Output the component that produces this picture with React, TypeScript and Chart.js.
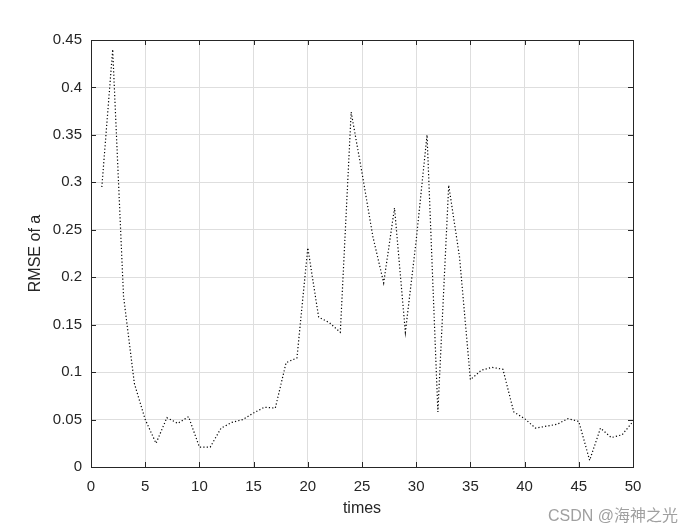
import { useEffect, useRef } from 'react';
import { Chart, registerables } from 'chart.js';

Chart.register(...registerables);

// x = 1..50 runs, y = RMSE
const times = Array.from({ length: 50 }, (_, i) => i + 1);
const rmse = [
  0.295, 0.44, 0.18, 0.088, 0.05, 0.025, 0.052, 0.046, 0.053, 0.021,
  0.021, 0.041, 0.047, 0.05, 0.057, 0.063, 0.062, 0.11, 0.115, 0.231,
  0.158, 0.152, 0.142, 0.374, 0.31, 0.243, 0.194, 0.273, 0.142, 0.239,
  0.35, 0.058, 0.297, 0.221, 0.092, 0.102, 0.105, 0.103, 0.058, 0.051,
  0.041, 0.043, 0.045, 0.051, 0.048, 0.007, 0.041, 0.031, 0.034, 0.048,
];
const xTicks = [0, 5, 10, 15, 20, 25, 30, 35, 40, 45, 50];
const yTicks = [0, 0.05, 0.1, 0.15, 0.2, 0.25, 0.3, 0.35, 0.4, 0.45];

const FONT = "'Liberation Sans', Arial, sans-serif";
const AXIS_COLOR = '#262626';

// MATLAB-style box with inward tick marks on all four sides
const boxPlugin = {
  id: 'matlabBox',
  afterDraw(chart: Chart) {
    const { ctx, chartArea: a, scales } = chart;
    const len = 5;
    ctx.save();
    ctx.strokeStyle = AXIS_COLOR;
    ctx.lineWidth = 1;
    ctx.beginPath();
    for (const v of xTicks) {
      const px = Math.round(scales.x.getPixelForValue(v)) + 0.5;
      ctx.moveTo(px, a.bottom);
      ctx.lineTo(px, a.bottom - len);
      ctx.moveTo(px, a.top);
      ctx.lineTo(px, a.top + len);
    }
    for (const v of yTicks) {
      const py = Math.round(scales.y.getPixelForValue(v)) + 0.5;
      ctx.moveTo(a.left, py);
      ctx.lineTo(a.left + len, py);
      ctx.moveTo(a.right, py);
      ctx.lineTo(a.right - len, py);
    }
    ctx.stroke();
    ctx.strokeRect(Math.round(a.left) + 0.5, Math.round(a.top) + 0.5, Math.round(a.right - a.left), Math.round(a.bottom - a.top));
    ctx.restore();
  },
};

export default function App() {
  const canvasRef = useRef<HTMLCanvasElement>(null);
  const chartRef = useRef<Chart | null>(null);

  useEffect(() => {
    if (!canvasRef.current) return;
    if (chartRef.current) chartRef.current.destroy();

    chartRef.current = new Chart(canvasRef.current, {
      type: 'line',
      data: {
        datasets: [
          {
            data: times.map((t, i) => ({ x: t, y: rmse[i] })),
            borderColor: '#000000',
            borderWidth: 1.2,
            borderDash: [1.2, 2.2],
            pointRadius: 0,
            tension: 0,
            fill: false,
          },
        ],
      },
      options: {
        animation: false,
        responsive: true,
        maintainAspectRatio: false,
        layout: { padding: { top: 40, right: 67, bottom: 0, left: 0 } },
        plugins: {
          legend: { display: false },
          tooltip: { enabled: false },
        },
        scales: {
          x: {
            type: 'linear',
            min: 0,
            max: 50,
            afterBuildTicks: (scale) => {
              scale.ticks = xTicks.map((v) => ({ value: v }));
            },
            afterFit: (scale) => {
              scale.height = 58;
            },
            ticks: {
              color: AXIS_COLOR,
              font: { family: FONT, size: 15 },
              padding: 11,
              maxRotation: 0,
              callback: (v) => String(v),
            },
            grid: { color: '#dedede', drawTicks: false },
            border: { display: false },
            title: {
              display: true,
              text: 'times',
              color: AXIS_COLOR,
              font: { family: FONT, size: 16 },
              padding: { top: 0, bottom: 7 },
            },
          },
          y: {
            type: 'linear',
            min: 0,
            max: 0.45,
            afterBuildTicks: (scale) => {
              scale.ticks = yTicks.map((v) => ({ value: v }));
            },
            afterFit: (scale) => {
              scale.width = 91;
            },
            ticks: {
              color: AXIS_COLOR,
              font: { family: FONT, size: 15 },
              padding: 9,
              callback: (v) => String(Number(Number(v).toFixed(2))),
            },
            grid: { color: '#dedede', drawTicks: false },
            border: { display: false },
            title: {
              display: true,
              text: 'RMSE of a',
              color: AXIS_COLOR,
              font: { family: FONT, size: 16 },
              padding: { top: 26, bottom: 0 },
            },
          },
        },
      },
      plugins: [boxPlugin],
    });

    return () => {
      if (chartRef.current) {
        chartRef.current.destroy();
        chartRef.current = null;
      }
    };
  }, []);

  return (
    <div style={{ position: 'absolute', left: 0, top: 0, width: 700, height: 525, background: '#ffffff', overflow: 'hidden' }}>
      <canvas ref={canvasRef}></canvas>
      <div
        style={{
          position: 'absolute',
          left: 548,
          top: 508,
          fontFamily: "'Liberation Sans', 'Noto Sans CJK SC', sans-serif",
          fontSize: 16,
          lineHeight: '16px',
          color: '#a0a0a0',
          whiteSpace: 'nowrap',
        }}
      >
        CSDN @海神之光
      </div>
    </div>
  );
}
